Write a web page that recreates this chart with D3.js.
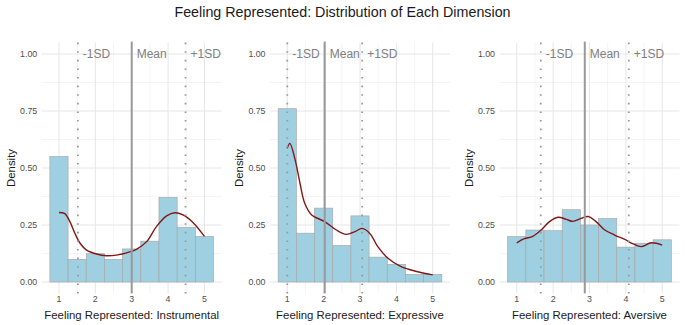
<!DOCTYPE html>
<html>
<head>
<meta charset="utf-8">
<script src="https://cdn.jsdelivr.net/npm/d3@7"></script>
<style>
  body { margin: 0; background: #fff; }
  text { font-family: "Liberation Sans", Arial, sans-serif; }
</style>
</head>
<body>
<svg id="chart" width="685" height="325"></svg>
<script>
// ------------------
// Data
// ------------------
const dimensions = ['Instrumental', 'Expressive', 'Aversive']
const binStarts = [0.75, 1.25, 1.75, 2.25, 2.75, 3.25, 3.75, 4.25, 4.75]
const binWidth = 0.5

const instrumentalBars = [0.55, 0.099, 0.124, 0.099, 0.145, 0.179, 0.371, 0.24, 0.199]
const expressiveBars = [0.76, 0.214, 0.324, 0.16, 0.29, 0.109, 0.077, 0.033, 0.033]
const aversiveBars = [0.199, 0.228, 0.225, 0.317, 0.25, 0.278, 0.153, 0.17, 0.185]

const instrumentalDensity = [
  [1.0, 0.305], [1.16, 0.30], [1.30, 0.265], [1.44, 0.213], [1.58, 0.17], [1.76, 0.14],
  [2.03, 0.123], [2.31, 0.115], [2.58, 0.118], [2.86, 0.128], [3.13, 0.143], [3.41, 0.177],
  [3.68, 0.243], [3.96, 0.29], [4.19, 0.304], [4.41, 0.294], [4.69, 0.26], [5.0, 0.20]
]
const expressiveDensity = [
  [1.0, 0.586], [1.07, 0.608], [1.21, 0.54], [1.35, 0.433], [1.48, 0.345], [1.67, 0.294],
  [2.03, 0.265], [2.35, 0.228], [2.62, 0.209], [2.85, 0.22], [3.06, 0.235], [3.27, 0.213],
  [3.49, 0.155], [3.77, 0.104], [4.13, 0.067], [4.59, 0.045], [5.0, 0.031]
]
const aversiveDensity = [
  [1.0, 0.172], [1.21, 0.19], [1.44, 0.20], [1.67, 0.228], [1.9, 0.265], [2.13, 0.284],
  [2.36, 0.275], [2.54, 0.266], [2.77, 0.279], [2.96, 0.287], [3.18, 0.265], [3.42, 0.228],
  [3.69, 0.206], [3.97, 0.187], [4.2, 0.167], [4.42, 0.155], [4.7, 0.172], [5.0, 0.162]
]

const means = [3.0, 2.03, 2.87]
const sds = [1.48, 1.03, 1.21]

const xTicks = [1, 2, 3, 4, 5]
const yTicks = [0, 0.25, 0.5, 0.75, 1.0]

const panels = dimensions.map((name, i) => ({
  name,
  bars: [instrumentalBars, expressiveBars, aversiveBars][i],
  density: [instrumentalDensity, expressiveDensity, aversiveDensity][i],
  mean: means[i],
  sd: sds[i]
}))

// ------------------
// Layout
// ------------------
const svg = d3.select('#chart')
const panelLefts = [41.7, 270, 499.5]
const panelWidth = 180
const panelTop = 42.6
const panelBottom = 293.4

const x = d3.scaleLinear().domain([0.525, 5.475]).range([0, panelWidth])
const y = d3.scaleLinear().domain([-0.05, 1.05]).range([panelBottom, panelTop])

svg.append('text')
  .attr('x', 342.5)
  .attr('y', 17)
  .attr('text-anchor', 'middle')
  .attr('font-size', 14.3)
  .attr('fill', '#1a1a1a')
  .text('Feeling Represented: Distribution of Each Dimension')

const line = d3.line()
  .x(d => x(d[0]))
  .y(d => y(d[1]))
  .curve(d3.curveCatmullRom.alpha(0.5))

panels.forEach((p, i) => {
  const g = svg.append('g')
    .attr('transform', `translate(${panelLefts[i]},0)`)

  // grid
  const minorX = [1.5, 2.5, 3.5, 4.5]
  const minorY = [0.125, 0.375, 0.625, 0.875]
  g.selectAll('.gx-minor').data(minorX).enter().append('line')
    .attr('x1', d => x(d)).attr('x2', d => x(d))
    .attr('y1', panelTop).attr('y2', panelBottom)
    .attr('stroke', '#ececec').attr('stroke-width', 0.6)
  g.selectAll('.gy-minor').data(minorY).enter().append('line')
    .attr('x1', 0).attr('x2', panelWidth)
    .attr('y1', d => y(d)).attr('y2', d => y(d))
    .attr('stroke', '#ececec').attr('stroke-width', 0.6)
  g.selectAll('.gx').data(xTicks).enter().append('line')
    .attr('x1', d => x(d)).attr('x2', d => x(d))
    .attr('y1', panelTop).attr('y2', panelBottom)
    .attr('stroke', '#e6e6e6').attr('stroke-width', 1)
  g.selectAll('.gy').data(yTicks).enter().append('line')
    .attr('x1', 0).attr('x2', panelWidth)
    .attr('y1', d => y(d)).attr('y2', d => y(d))
    .attr('stroke', '#e6e6e6').attr('stroke-width', 1)

  // histogram
  g.selectAll('.bar').data(p.bars).enter().append('rect')
    .attr('x', (d, j) => x(binStarts[j]))
    .attr('width', x(binStarts[0] + binWidth) - x(binStarts[0]))
    .attr('y', d => y(d))
    .attr('height', d => y(0) - y(d))
    .attr('fill', '#9fd0e1')
    .attr('stroke', '#a8a8a8')
    .attr('stroke-width', 0.7)

  // density
  g.append('path')
    .datum(p.density)
    .attr('fill', 'none')
    .attr('stroke', '#801818')
    .attr('stroke-width', 1.4)
    .attr('d', line)

  // mean and sd lines
  g.append('line')
    .attr('x1', x(p.mean)).attr('x2', x(p.mean))
    .attr('y1', panelTop - 1).attr('y2', panelBottom)
    .attr('stroke', '#999').attr('stroke-width', 2)
  ;[p.mean - p.sd, p.mean + p.sd].forEach(v => {
    g.append('line')
      .attr('x1', x(v)).attr('x2', x(v))
      .attr('y1', panelTop).attr('y2', panelBottom)
      .attr('stroke', '#999').attr('stroke-width', 1.8)
      .attr('stroke-dasharray', '1.6 7')
  })

  const labels = [['-1SD', p.mean - p.sd], ['Mean', p.mean], ['+1SD', p.mean + p.sd]]
  g.selectAll('.ref-label').data(labels).enter().append('text')
    .attr('x', d => x(d[1]) + 5)
    .attr('y', y(1) + 4.3)
    .attr('font-size', 12)
    .attr('fill', '#808080')
    .text(d => d[0])

  // axes text
  g.selectAll('.xt').data(xTicks).enter().append('text')
    .attr('x', d => x(d))
    .attr('y', 302)
    .attr('text-anchor', 'middle')
    .attr('font-size', 8.8)
    .attr('fill', '#4d4d4d')
    .text(d => d)
  g.selectAll('.yt').data(yTicks).enter().append('text')
    .attr('x', -4.5)
    .attr('y', d => y(d) + 3)
    .attr('text-anchor', 'end')
    .attr('font-size', 8.8)
    .attr('fill', '#4d4d4d')
    .text(d => d3.format('.2f')(d))

  g.append('text')
    .attr('x', panelWidth / 2)
    .attr('y', 319)
    .attr('text-anchor', 'middle')
    .attr('font-size', 11.4)
    .attr('fill', '#1a1a1a')
    .text('Feeling Represented: ' + p.name)

  g.append('text')
    .attr('transform', `translate(-27,${(panelTop + panelBottom) / 2}) rotate(-90)`)
    .attr('text-anchor', 'middle')
    .attr('font-size', 11.4)
    .attr('fill', '#1a1a1a')
    .text('Density')
})
</script>
</body>
</html>
